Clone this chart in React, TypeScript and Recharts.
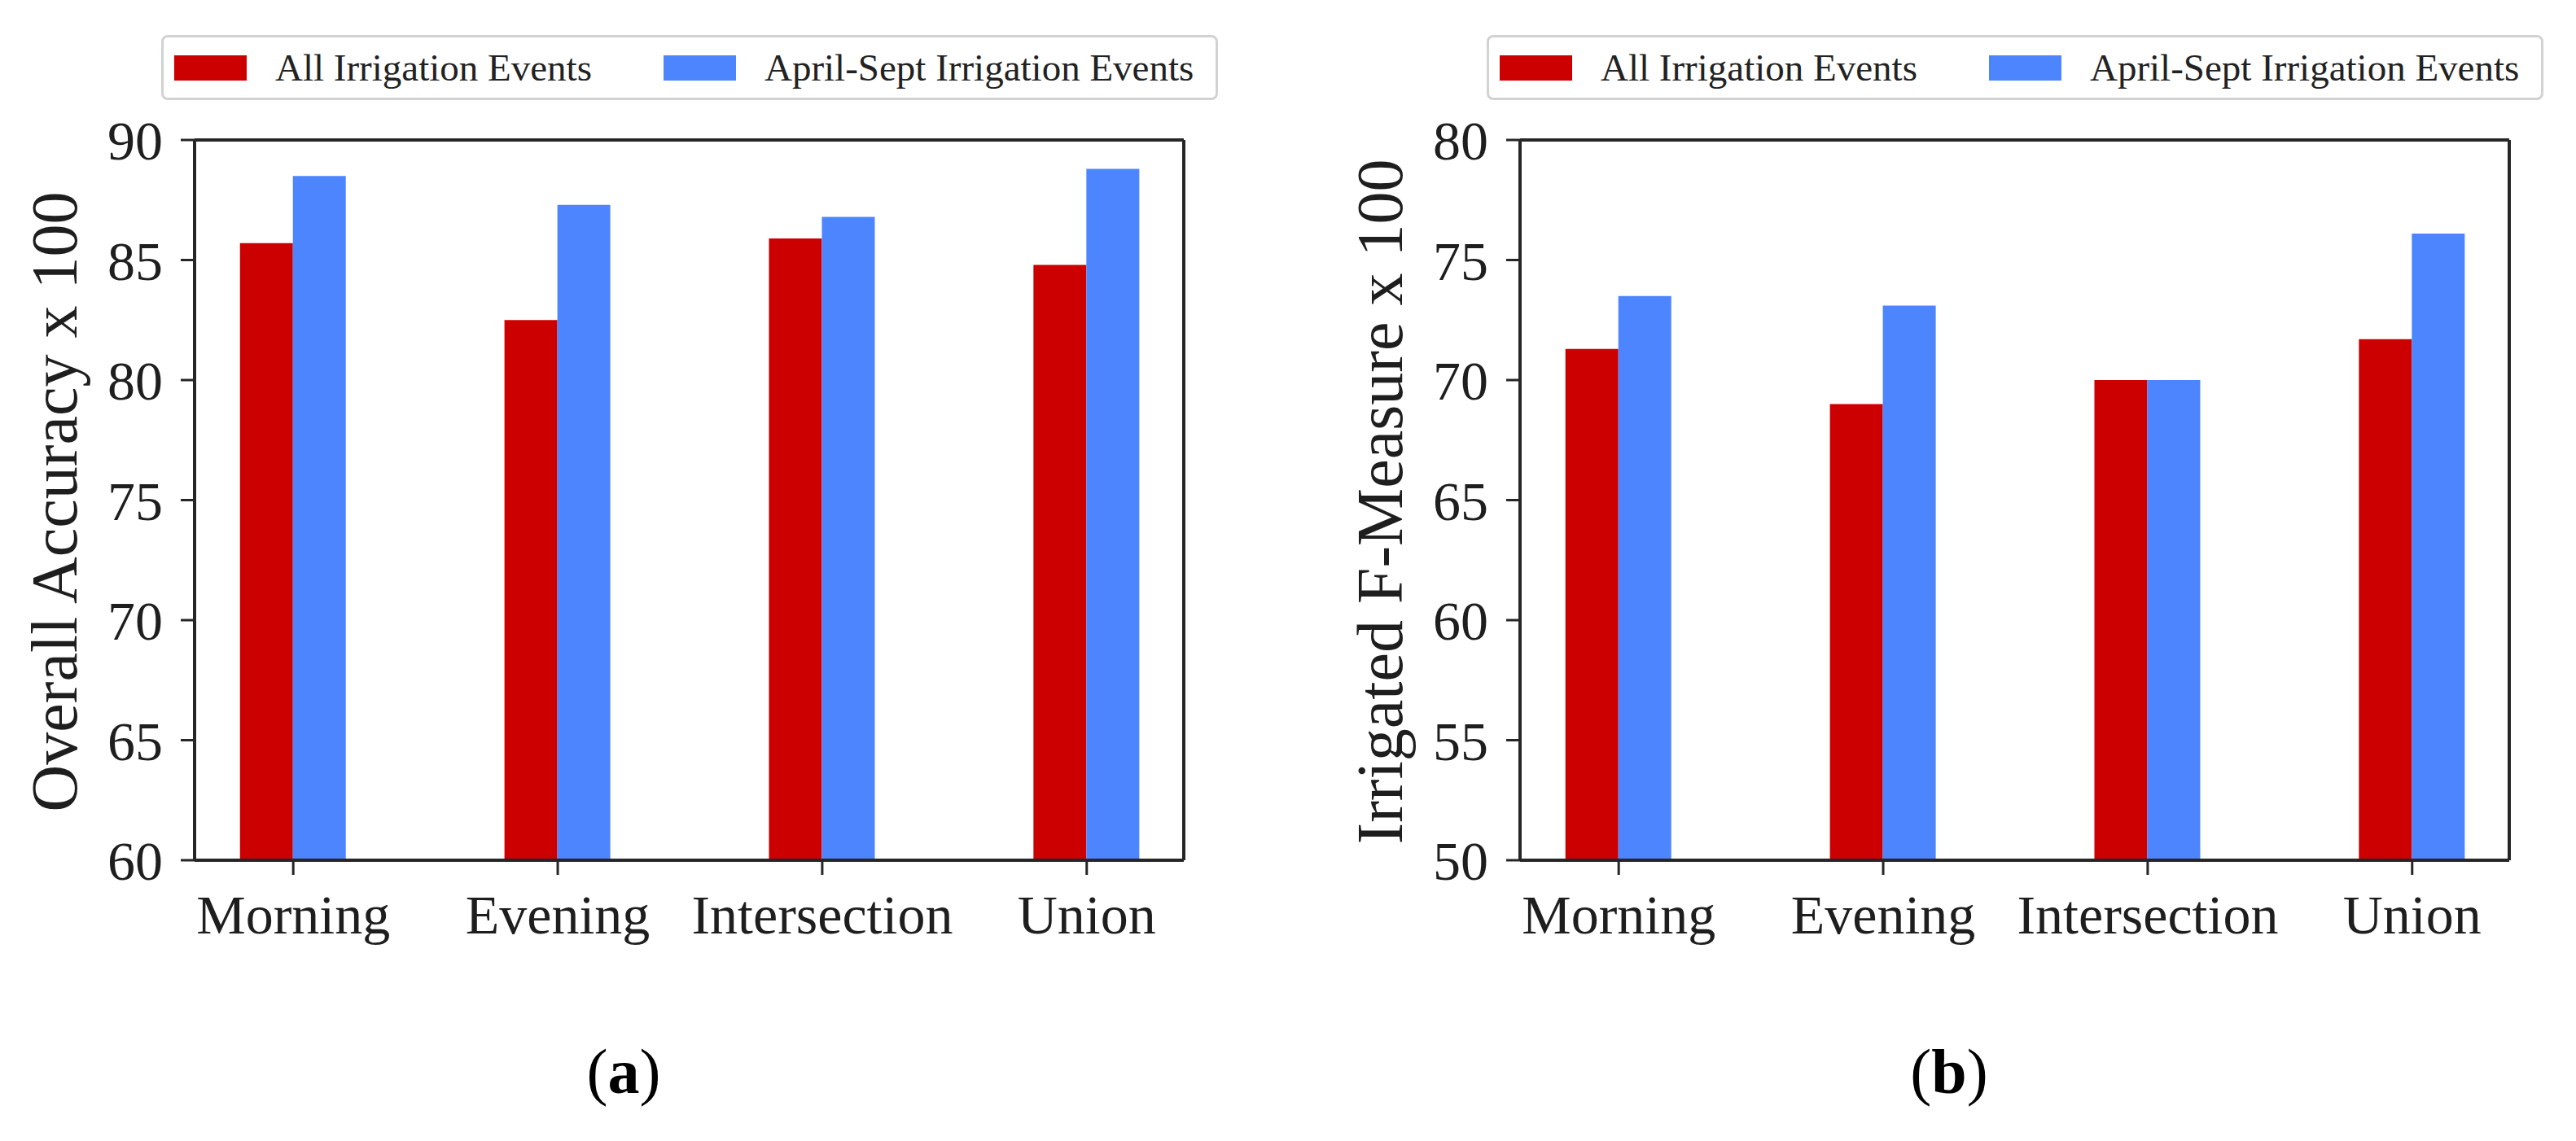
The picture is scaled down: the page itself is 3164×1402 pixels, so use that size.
import React from "react";
import { BarChart, Bar, XAxis, YAxis, Legend, ReferenceLine } from "recharts";

const categories = ["Morning", "Evening", "Intersection", "Union"];
const seriesNames = ["All Irrigation Events", "April-Sept Irrigation Events"];
const seriesColors = ["#cc0000", "#4d85ff"];

const accuracyAll = [85.7, 82.5, 85.9, 84.8];
const accuracyAprSep = [88.5, 87.3, 86.8, 88.8];
const accuracyTicks = [60, 65, 70, 75, 80, 85, 90];

const fMeasureAll = [71.3, 69.0, 70.0, 71.7];
const fMeasureAprSep = [73.5, 73.1, 70.0, 76.1];
const fMeasureTicks = [50, 55, 60, 65, 70, 75, 80];

const FONT = "'Liberation Serif', 'Times New Roman', serif";
const AXIS = "#262626";
const X_DOMAIN: [number, number] = [-0.373, 3.367];

const renderLegend = (props: any) => {
  const payload = props.payload || [];
  return (
    <div
      style={{
        boxSizing: "border-box",
        width: 1298,
        height: 80,
        border: "3px solid #d2d2d2",
        borderRadius: 8,
        background: "#fff",
        display: "flex",
        alignItems: "center",
        paddingLeft: 13,
        fontFamily: FONT,
        fontSize: 47,
        color: "#222",
        whiteSpace: "nowrap",
      }}
    >
      {payload.map((p: any, i: number) => (
        <div key={p.value} style={{ display: "flex", alignItems: "center", marginRight: i === 0 ? 88 : 0 }}>
          <span style={{ display: "inline-block", width: 89, height: 31, background: p.color, marginRight: 35 }} />
          <span>{p.value}</span>
        </div>
      ))}
    </div>
  );
};

function Panel({
  left,
  all,
  aprSep,
  yTicks,
  yTitle,
  caption,
}: {
  left: number;
  all: number[];
  aprSep: number[];
  yTicks: number[];
  yTitle: string;
  caption: string;
}) {
  const data = categories.map((c, i) => ({ pos: i, name: c, all: all[i], aprSep: aprSep[i] }));
  const yDomain: [number, number] = [yTicks[0], yTicks[yTicks.length - 1]];

  return (
    <div style={{ position: "absolute", left, top: 0 }}>
      <BarChart
        width={1536}
        height={1402}
        data={data}
        margin={{ top: 172, right: 82, left: 0, bottom: 0 }}
        barGap={0}
      >
        <XAxis
          dataKey="pos"
          type="number"
          domain={X_DOMAIN}
          allowDataOverflow
          ticks={[0, 1, 2, 3]}
          interval={0}
          tickFormatter={(v: number) => categories[v]}
          height={345}
          tickSize={18}
          tickMargin={24}
          axisLine={{ stroke: AXIS, strokeWidth: 4 }}
          tickLine={{ stroke: AXIS, strokeWidth: 3 }}
          tick={{ fontFamily: FONT, fontSize: 68, fill: "#1e1e1e" }}
          label={(p: any) => {
            const vb = p.viewBox;
            const cx = vb.x + 527;
            const cy = vb.y + 286;
            return (
              <text x={cx} y={cy} textAnchor="middle" fontFamily={FONT} fontSize={78} fill="#000">
                (<tspan fontWeight="bold">{caption}</tspan>)
              </text>
            );
          }}
        />
        <YAxis
          domain={yDomain}
          ticks={yTicks}
          allowDataOverflow
          interval={0}
          width={239}
          tickSize={17}
          tickMargin={22}
          axisLine={{ stroke: AXIS, strokeWidth: 4 }}
          tickLine={{ stroke: AXIS, strokeWidth: 3 }}
          tick={{ fontFamily: FONT, fontSize: 68, fill: "#1e1e1e" }}
          label={(p: any) => {
            const vb = p.viewBox;
            const cx = vb.x + 94;
            const cy = vb.y + vb.height / 2 + 2;
            return (
              <text
                x={cx}
                y={cy}
                transform={`rotate(-90 ${cx} ${cy})`}
                textAnchor="middle"
                fontFamily={FONT}
                fontSize={80}
                fill="#1e1e1e"
              >
                {yTitle}
              </text>
            );
          }}
        />
        <Legend
          content={renderLegend}
          layout="horizontal"
          verticalAlign="middle"
          align="center"
          width={1298}
          height={80}
          wrapperStyle={{ left: 198, top: 43, width: 1298, height: 80 }}
        />
        <Bar dataKey="all" name={seriesNames[0]} fill={seriesColors[0]} barSize={65} isAnimationActive={false} />
        <Bar dataKey="aprSep" name={seriesNames[1]} fill={seriesColors[1]} barSize={65} isAnimationActive={false} />
        {/* close the frame: top and right spines */}
        <ReferenceLine y={yDomain[1]} stroke={AXIS} strokeWidth={4} ifOverflow="visible" />
        <ReferenceLine x={X_DOMAIN[1]} stroke={AXIS} strokeWidth={4} ifOverflow="visible" />
      </BarChart>
    </div>
  );
}

export default function App() {
  return (
    <div
      style={{
        position: "absolute",
        left: 0,
        top: 0,
        width: 3164,
        height: 1402,
        background: "#fff",
        overflow: "hidden",
      }}
    >
      <Panel
        left={0}
        all={accuracyAll}
        aprSep={accuracyAprSep}
        yTicks={accuracyTicks}
        yTitle="Overall Accuracy x 100"
        caption="a"
      />
      <Panel
        left={1628}
        all={fMeasureAll}
        aprSep={fMeasureAprSep}
        yTicks={fMeasureTicks}
        yTitle="Irrigated F-Measure x 100"
        caption="b"
      />
    </div>
  );
}
